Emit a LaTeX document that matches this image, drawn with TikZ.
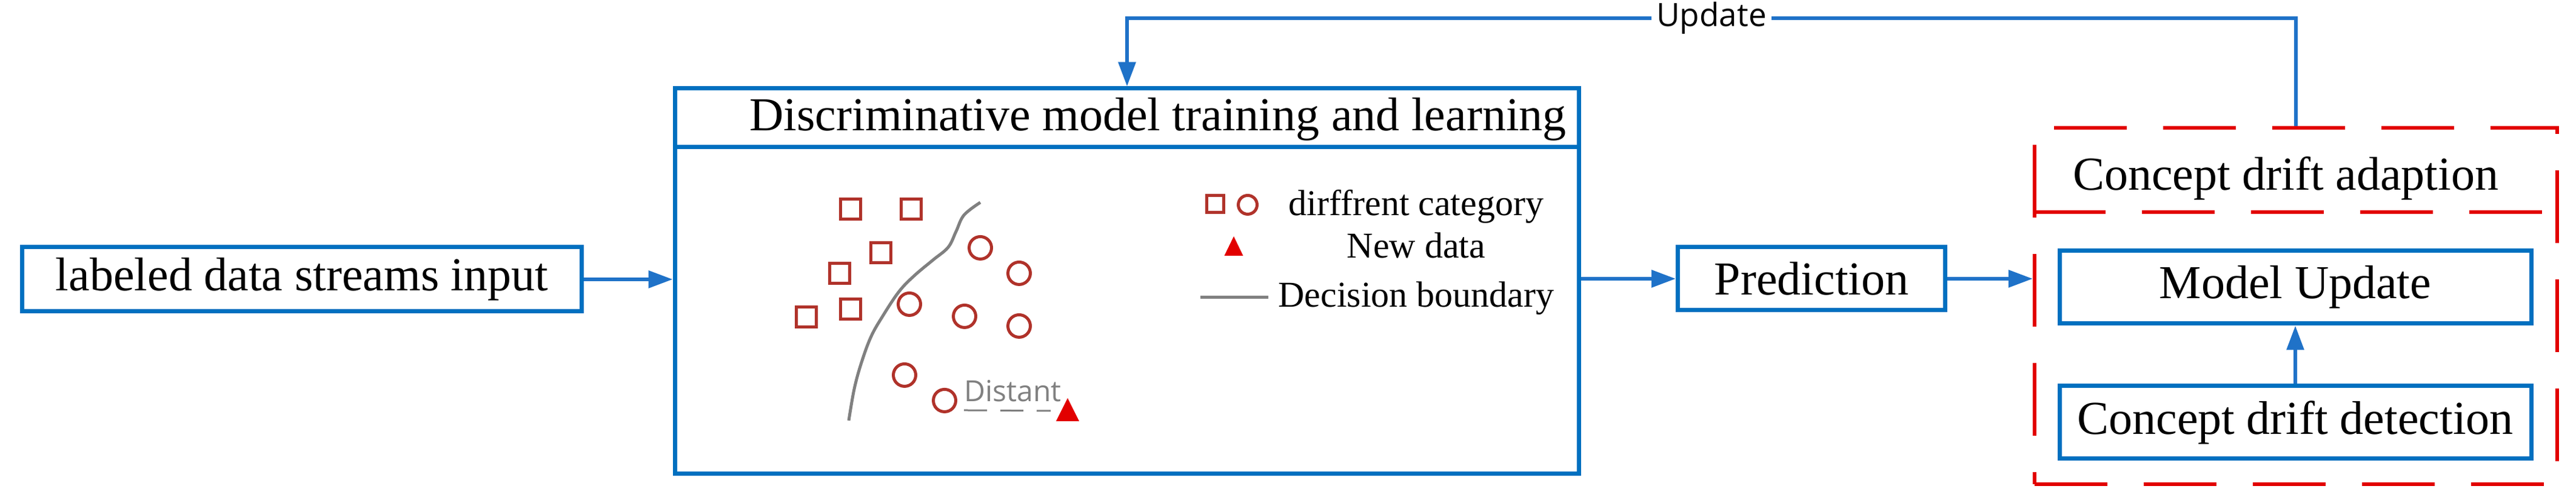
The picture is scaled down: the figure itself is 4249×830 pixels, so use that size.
\documentclass[tikz,border=0pt]{standalone}
\usepackage{fontspec}
\setmainfont{Liberation Serif}
\newfontfamily\labelsans{Open Sans}
\usetikzlibrary{arrows.meta}
\definecolor{boxblue}{RGB}{0,112,192}
\definecolor{flowblue}{RGB}{31,114,200}
\definecolor{driftred}{RGB}{226,0,0}
\definecolor{ptred}{RGB}{176,50,42}
\definecolor{bndgray}{RGB}{128,128,128}

\begin{document}
\begin{tikzpicture}[x=0.1pt,y=-0.1pt,
  blk/.style={draw=boxblue,line width=0.7pt,inner sep=0pt,font=\fontsize{7.8}{9}\selectfont},
  flow/.style={draw=flowblue,line width=0.6pt,-{Triangle[length=4pt,width=2.8pt]}},
  sq/.style={draw=ptred,line width=0.5pt,minimum size=3.3pt,inner sep=0pt},
  cir/.style={draw=ptred,line width=0.5pt,circle,minimum size=3.7pt,inner sep=0pt},
  legtxt/.style={font=\fontsize{6}{7}\selectfont,inner sep=0pt}]
\useasboundingbox (0,0) rectangle (4249,830);

\node[blk,minimum width=92.4pt,minimum height=10.6pt] (input) at (498,461) {labeled data streams input};

\node[blk,minimum width=149.2pt,minimum height=63.6pt] (model) at (1859,464) {};
\coordinate (hdr) at (0,243);
\draw[boxblue,line width=0.7pt] (model.west |- hdr) -- (model.east |- hdr);
\node[font=\fontsize{7.8}{9}\selectfont,inner sep=0pt] (hdrTxt) at (1910,197) {Discriminative model training and learning};

% samples
\node[sq] (sq1) at (1403,345) {};
\node[sq] (sq2) at ([shift={+(100,0)}]sq1) {};
\node[sq] (sq3) at (1453,417) {};
\node[sq] (sq4) at (1385,451) {};
\node[sq] (sq5) at (1403,510) {};
\node[sq] (sq6) at (1330,523) {};
\node[cir] (c1) at (1617,409) {};
\node[cir] (c2) at (1681,451) {};
\node[cir] (c3) at (1500,502) {};
\node[cir] (c4) at (1591,522) {};
\node[cir] (c5) at (1681,538) {};
\node[cir] (c6) at (1492,619) {};
\node[cir] (c7) at (1558,661) {};
\coordinate (newdata) at (1761,676);
\fill[driftred] (newdata) ++(0,-19) -- ++(19,38) -- ++(-38,0) -- cycle;
\coordinate (distA) at ([shift={+(32,16)}]c7);
\coordinate (distB) at ([shift={+(-28,2)}]newdata);
\draw[bndgray,line width=0.3pt,dash pattern=on 3.8pt off 2.2pt] (distA) -- node[above,xshift=0.9pt,inner sep=1.3pt,text=bndgray,font=\labelsans\fontsize{4.8}{5}\selectfont] (distTxt) {Distant} (distB);

% boundary
\draw[bndgray,line width=0.5pt] plot[smooth,tension=0.6] coordinates {(1617,334) (1590,355) (1577,382) (1564,408) (1539,429) (1508,455) (1483,481) (1457,520) (1437,555) (1421,598) (1409,642) (1400,694)};

% legend
\node[sq,minimum size=2.8pt] (legSq) at (2004,337) {};
\node[cir,minimum size=3.1pt] (legCir) at ([shift={+(54,1)}]legSq) {};
\coordinate (legTri) at (2035,406);
\fill[driftred] (legTri) ++(0,-16) -- ++(15.5,32) -- ++(-31,0) -- cycle;
\coordinate (legA) at (1980,491);
\coordinate (legB) at ([shift={+(112,0)}]legA);
\draw[bndgray,line width=0.5pt] (legA) -- (legB);
\node[legtxt] (catTxt) at (2336,341) {dirffrent category};
\node[legtxt] (newTxt) at (2336,405) {New data};
\node[legtxt] (bndTxt) at (2336,492) {Decision boundary};

\node[blk,minimum width=44.1pt,minimum height=10.4pt] (pred) at (2988,460) {Prediction};

\node[draw=driftred,line width=0.65pt,dash pattern=on 12pt off 6pt,minimum width=86.2pt,minimum height=58.8pt,inner sep=0pt] (adapt) at (3787,505) {};
\coordinate (adaptDiv) at (0,350);
\draw[driftred,line width=0.65pt,dash pattern=on 12pt off 6pt] (adapt.west |- adaptDiv) -- ([xshift=-1.6pt]adapt.east |- adaptDiv);
\node[font=\fontsize{7.8}{9}\selectfont,inner sep=0pt] (adaptTxt) at (3770,294) {Concept drift adaption};
\node[blk,minimum width=77.8pt,minimum height=12pt] (upd) at (3786,474) {Model Update};
\node[blk,minimum width=77.8pt,minimum height=12pt] (detect) at (3786,697) {Concept drift detection};

% arrows
\draw[flow] (input.east) -- (model.west |- input.east);
\draw[flow] (model.east |- pred.west) -- (pred.west);
\draw[flow] (pred.east) -- (adapt.west |- pred.east);
\draw[flow] (detect.north) -- (upd.south);
\coordinate (top) at (0,30);
\draw[flow] (adapt.north) -- (adapt.north |- top) -- node[fill=white,inner sep=0.8pt,font=\labelsans\fontsize{5.3}{6}\selectfont] (updTxt) {Update} (model.north |- top) -- (model.north);
\end{tikzpicture}
\end{document}
